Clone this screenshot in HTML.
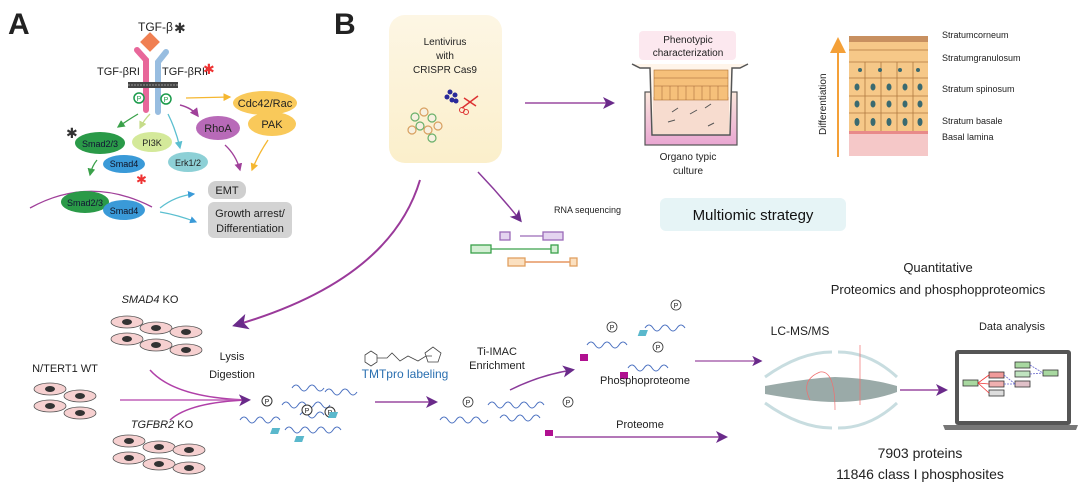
<!DOCTYPE html>
<html><head><meta charset="utf-8"><style>
html,body{margin:0;padding:0;background:#fff;}
svg{display:block;font-family:"Liberation Sans",sans-serif;}
</style></head><body>
<svg width="1080" height="484" viewBox="0 0 1080 484" xmlns="http://www.w3.org/2000/svg">
<defs>
<marker id="ap" markerWidth="8" markerHeight="8" refX="6" refY="4" orient="auto"><path d="M0,0 L8,4 L0,8 L2,4z" fill="#6a2a8a"/></marker>
<marker id="apk" markerWidth="6" markerHeight="6" refX="5" refY="3" orient="auto"><path d="M0,0 L6,3 L0,6z" fill="#a0409a"/></marker>
<marker id="ag" markerWidth="6" markerHeight="6" refX="5" refY="3" orient="auto"><path d="M0,0 L6,3 L0,6z" fill="#3aa14a"/></marker>
<marker id="alg" markerWidth="6" markerHeight="6" refX="5" refY="3" orient="auto"><path d="M0,0 L6,3 L0,6z" fill="#c6dc8a"/></marker>
<marker id="at" markerWidth="6" markerHeight="6" refX="5" refY="3" orient="auto"><path d="M0,0 L6,3 L0,6z" fill="#5bbfd0"/></marker>
<marker id="ab" markerWidth="6" markerHeight="6" refX="5" refY="3" orient="auto"><path d="M0,0 L6,3 L0,6z" fill="#3a9ad8"/></marker>
<marker id="ay" markerWidth="6" markerHeight="6" refX="5" refY="3" orient="auto"><path d="M0,0 L6,3 L0,6z" fill="#f5b731"/></marker>
<marker id="ao" markerWidth="8" markerHeight="8" refX="4" refY="4" orient="auto"><path d="M0,0 L8,4 L0,8z" fill="#f4a038"/></marker>
<linearGradient id="lg" x1="0" y1="0" x2="0" y2="1"><stop offset="0" stop-color="#fdf6e4"/><stop offset="1" stop-color="#fbefcb"/></linearGradient>
<linearGradient id="pk" x1="0" y1="0" x2="0" y2="1"><stop offset="0" stop-color="#fbe8dc"/><stop offset="1" stop-color="#e9a6d2"/></linearGradient>
</defs>

<!-- Panel A -->
<text x="8" y="34" font-size="30" font-weight="bold" fill="#222">A</text>
<text x="334" y="34" font-size="30" font-weight="bold" fill="#222">B</text>
<text x="138" y="31" font-size="12" fill="#222">TGF-β</text>
<text x="174" y="33" font-size="14" fill="#333">✱</text>
<rect x="143" y="35" width="14" height="14" fill="#f07f52" transform="rotate(45 150 42)"/>
<path d="M137,50 L146,60 L146,110" stroke="#e8679a" stroke-width="6" fill="none" stroke-linecap="round"/>
<path d="M166,52 L158,62 L158,112" stroke="#98bde0" stroke-width="6" fill="none" stroke-linecap="round"/>
<rect x="128" y="82" width="50" height="6" fill="#444"/>
<line x1="128" y1="85" x2="178" y2="85" stroke="#999" stroke-width="1" stroke-dasharray="2,1"/>
<text x="97" y="75" font-size="11" fill="#222">TGF-βRI</text>
<text x="162" y="75" font-size="11" fill="#222">TGF-βRII</text>
<text x="203" y="74" font-size="14" fill="#e33">✱</text>
<circle cx="139" cy="98" r="5" fill="#fff" stroke="#1a9a4a" stroke-width="1.5"/><text x="139" y="101" font-size="7" text-anchor="middle" fill="#1a9a4a">P</text>
<circle cx="166" cy="99" r="5" fill="#fff" stroke="#1a9a4a" stroke-width="1.5"/><text x="166" y="102" font-size="7" text-anchor="middle" fill="#1a9a4a">P</text>
<line x1="186" y1="98" x2="230" y2="97" stroke="#f5b731" stroke-width="1.3" marker-end="url(#ay)"/>
<path d="M180,105 Q192,108 198,116" stroke="#a0409a" stroke-width="1.5" fill="none" marker-end="url(#apk)"/>
<ellipse cx="265" cy="103" rx="32" ry="12" fill="#f9c95a"/><text x="265" y="107" font-size="11" text-anchor="middle" fill="#222">Cdc42/Rac</text>
<ellipse cx="272" cy="124" rx="24" ry="12" fill="#f9c95a"/><text x="272" y="128" font-size="11" text-anchor="middle" fill="#222">PAK</text>
<ellipse cx="218" cy="128" rx="22" ry="12" fill="#b86ab8"/><text x="218" y="132" font-size="11" text-anchor="middle" fill="#222">RhoA</text>
<path d="M138,114 Q128,120 118,127" stroke="#3aa14a" stroke-width="1.3" fill="none" marker-end="url(#ag)"/>
<path d="M150,114 Q144,120 140,128" stroke="#c6dc8a" stroke-width="1.3" fill="none" marker-end="url(#alg)"/>
<path d="M168,114 Q176,130 180,148" stroke="#5bbfd0" stroke-width="1.3" fill="none" marker-end="url(#at)"/>
<text x="66" y="138" font-size="14" fill="#333">✱</text>
<ellipse cx="100" cy="143" rx="25" ry="11" fill="#2a9a48"/><text x="100" y="147" font-size="9" text-anchor="middle" fill="#113">Smad2/3</text>
<ellipse cx="152" cy="142" rx="20" ry="10" fill="#d4e99a"/><text x="152" y="146" font-size="9" text-anchor="middle" fill="#222">PI3K</text>
<ellipse cx="124" cy="164" rx="21" ry="9" fill="#3a9ad8"/><text x="124" y="167" font-size="9" text-anchor="middle" fill="#112">Smad4</text>
<text x="136" y="184" font-size="13" fill="#e33">✱</text>
<ellipse cx="188" cy="162" rx="20" ry="10" fill="#8dd0d6"/><text x="188" y="166" font-size="9" text-anchor="middle" fill="#222">Erk1/2</text>
<path d="M97,160 Q92,166 90,175" stroke="#3aa14a" stroke-width="1.3" fill="none" marker-end="url(#ag)"/>
<path d="M225,145 Q236,155 240,170" stroke="#a0409a" stroke-width="1.3" fill="none" marker-end="url(#apk)"/>
<path d="M268,140 Q258,155 252,170" stroke="#f5b731" stroke-width="1.3" fill="none" marker-end="url(#ay)"/>
<path d="M30,208 Q90,175 152,207" stroke="#a0409a" stroke-width="1.3" fill="none"/>
<ellipse cx="85" cy="202" rx="24" ry="11" fill="#2a9a48"/><text x="85" y="206" font-size="9" text-anchor="middle" fill="#113">Smad2/3</text>
<ellipse cx="124" cy="210" rx="21" ry="10" fill="#3a9ad8"/><text x="124" y="214" font-size="9" text-anchor="middle" fill="#112">Smad4</text>
<path d="M160,208 Q175,196 194,194" stroke="#5bbfd0" stroke-width="1.2" fill="none" marker-end="url(#ab)"/>
<path d="M160,212 Q178,215 196,222" stroke="#5bbfd0" stroke-width="1.2" fill="none" marker-end="url(#ab)"/>
<rect x="208" y="181" width="38" height="18" rx="8" fill="#cfcfcf"/><text x="227" y="194" font-size="11" text-anchor="middle" fill="#222">EMT</text>
<rect x="208" y="202" width="84" height="36" rx="6" fill="#d3d3d3"/>
<text x="250" y="217" font-size="11" text-anchor="middle" fill="#222">Growth arrest/</text>
<text x="250" y="232" font-size="11" text-anchor="middle" fill="#222">Differentiation</text>

<!-- Panel B top -->
<rect x="389" y="15" width="113" height="148" rx="16" fill="url(#lg)"/>
<text x="445" y="45" font-size="10" text-anchor="middle" fill="#222">Lentivirus</text>
<text x="445" y="59" font-size="10" text-anchor="middle" fill="#222">with</text>
<text x="445" y="73" font-size="10" text-anchor="middle" fill="#222">CRISPR Cas9</text>
<g fill="#2a2a9a"><circle cx="450" cy="92" r="2.5"/><circle cx="455" cy="95" r="2.5"/><circle cx="447" cy="97" r="2.5"/><circle cx="452" cy="100" r="2.5"/><circle cx="456" cy="101" r="2.5"/></g>
<path d="M462,108 L478,96 M464,98 L476,106" stroke="#d33" stroke-width="1.5"/><circle cx="462" cy="110" r="2.5" fill="none" stroke="#d33"/><circle cx="466" cy="112" r="2.5" fill="none" stroke="#d33"/>
<g stroke-width="1.2" fill="#f7f0e0"><circle cx="415" cy="117" r="4" stroke="#6ab06a"/><circle cx="424" cy="112" r="4" stroke="#d8a060"/><circle cx="432" cy="118" r="4" stroke="#6ab06a"/><circle cx="420" cy="126" r="4" stroke="#6ab06a"/><circle cx="428" cy="130" r="4" stroke="#d8a060"/><circle cx="438" cy="126" r="4" stroke="#d8a060"/><circle cx="412" cy="130" r="4" stroke="#d8a060"/><circle cx="432" cy="138" r="4" stroke="#6ab06a"/></g>
<line x1="525" y1="103" x2="612" y2="103" stroke="#9a4aa0" stroke-width="1.5" marker-end="url(#ap)"/>
<rect x="639" y="31" width="97" height="29" rx="4" fill="#fce8ef"/>
<text x="688" y="43" font-size="10" text-anchor="middle" fill="#222">Phenotypic</text>
<text x="688" y="56" font-size="10" text-anchor="middle" fill="#222">characterization</text>
<rect x="645" y="92" width="92" height="53" fill="url(#pk)" stroke="#555" stroke-width="1.2"/>
<path d="M632,64 L640,68 L650,68 L652,135 L730,135 L732,68 L740,68 L748,64" fill="#fff5ea" stroke="#555" stroke-width="1.5"/>
<rect x="653" y="97" width="76" height="37" fill="#f5d6c8" opacity="0.8"/>
<rect x="654" y="70" width="74" height="30" fill="#f6c07a" stroke="#b07030" stroke-width="0.6"/>
<g stroke="#a06030" stroke-width="0.5"><line x1="654" y1="78" x2="728" y2="78"/><line x1="654" y1="86" x2="728" y2="86"/><line x1="662" y1="86" x2="662" y2="100"/><line x1="670" y1="86" x2="670" y2="100"/><line x1="678" y1="86" x2="678" y2="100"/><line x1="686" y1="86" x2="686" y2="100"/><line x1="694" y1="86" x2="694" y2="100"/><line x1="702" y1="86" x2="702" y2="100"/><line x1="710" y1="86" x2="710" y2="100"/><line x1="718" y1="86" x2="718" y2="100"/></g>
<g stroke="#555" stroke-width="1"><line x1="672" y1="112" x2="678" y2="108"/><line x1="690" y1="114" x2="697" y2="110"/><line x1="668" y1="122" x2="675" y2="120"/><line x1="705" y1="108" x2="711" y2="104"/><line x1="708" y1="126" x2="714" y2="123"/></g>
<text x="688" y="160" font-size="10" text-anchor="middle" fill="#222">Organo typic</text>
<text x="688" y="174" font-size="10" text-anchor="middle" fill="#222">culture</text>
<line x1="838" y1="157" x2="838" y2="45" stroke="#f4a038" stroke-width="2" marker-end="url(#ao)"/>
<text x="826" y="135" font-size="10" fill="#222" transform="rotate(-90 826 135)">Differentiation</text>
<rect x="849" y="134" width="79" height="22" fill="#f5c8c8"/>
<rect x="849" y="130" width="79" height="4" fill="#e88a8a"/>
<rect x="849" y="38" width="79" height="93" fill="#f6c888"/>
<rect x="849" y="36" width="79" height="6" fill="#c89060"/>
<g stroke="#b07a40" stroke-width="0.8" fill="none">
<line x1="849" y1="50" x2="928" y2="50"/><line x1="849" y1="62" x2="928" y2="62"/><line x1="849" y1="78" x2="928" y2="78"/><line x1="849" y1="96" x2="928" y2="96"/><line x1="849" y1="113" x2="928" y2="113"/>
<line x1="865" y1="62" x2="865" y2="131"/><line x1="881" y1="62" x2="881" y2="131"/><line x1="897" y1="62" x2="897" y2="131"/><line x1="913" y1="62" x2="913" y2="131"/></g>
<g fill="#3a6a70"><ellipse cx="857" cy="87" rx="2.5" ry="3.5"/><ellipse cx="873" cy="87" rx="2.5" ry="3.5"/><ellipse cx="889" cy="87" rx="2.5" ry="3.5"/><ellipse cx="905" cy="87" rx="2.5" ry="3.5"/><ellipse cx="920" cy="87" rx="2.5" ry="3.5"/><ellipse cx="857" cy="104" rx="2.5" ry="3.5"/><ellipse cx="873" cy="104" rx="2.5" ry="3.5"/><ellipse cx="889" cy="104" rx="2.5" ry="3.5"/><ellipse cx="905" cy="104" rx="2.5" ry="3.5"/><ellipse cx="920" cy="104" rx="2.5" ry="3.5"/><ellipse cx="857" cy="122" rx="2.5" ry="4"/><ellipse cx="873" cy="122" rx="2.5" ry="4"/><ellipse cx="889" cy="122" rx="2.5" ry="4"/><ellipse cx="905" cy="122" rx="2.5" ry="4"/><ellipse cx="920" cy="122" rx="2.5" ry="4"/><ellipse cx="860" cy="70" rx="2" ry="2"/><ellipse cx="880" cy="70" rx="2" ry="2"/><ellipse cx="900" cy="70" rx="2" ry="2"/><ellipse cx="918" cy="70" rx="2" ry="2"/></g>
<g font-size="9" fill="#222"><text x="942" y="38">Stratumcorneum</text><text x="942" y="61">Stratumgranulosum</text><text x="942" y="92">Stratum spinosum</text><text x="942" y="124">Stratum basale</text><text x="942" y="140">Basal lamina</text></g>
<path d="M478,172 Q500,195 520,220" stroke="#8a3a9a" stroke-width="1.5" fill="none" marker-end="url(#ap)"/>
<text x="554" y="213" font-size="9" fill="#222">RNA sequencing</text>
<g stroke-width="1.3"><line x1="520" y1="236" x2="544" y2="236" stroke="#9a6ab8"/><rect x="500" y="232" width="10" height="8" fill="#e4d4f0" stroke="#9a6ab8"/><rect x="543" y="232" width="20" height="8" fill="#e4d4f0" stroke="#9a6ab8"/>
<line x1="480" y1="249" x2="552" y2="249" stroke="#3aa14a"/><rect x="471" y="245" width="20" height="8" fill="#d4efd4" stroke="#3aa14a"/><rect x="551" y="245" width="7" height="8" fill="#d4efd4" stroke="#3aa14a"/>
<line x1="520" y1="262" x2="572" y2="262" stroke="#e08040"/><rect x="508" y="258" width="17" height="8" fill="#fbe0c0" stroke="#e0a060"/><rect x="570" y="258" width="7" height="8" fill="#fbe0c0" stroke="#e0a060"/></g>
<rect x="660" y="198" width="186" height="33" rx="6" fill="#e6f4f6"/>
<text x="753" y="220" font-size="15" text-anchor="middle" fill="#111">Multiomic strategy</text>
<path d="M420,180 Q390,280 236,325" stroke="#9a3a9a" stroke-width="2" fill="none" marker-end="url(#ap)"/>

<!-- Bottom -->
<text x="938" y="272" font-size="13" text-anchor="middle" fill="#222">Quantitative</text>
<text x="938" y="294" font-size="13" text-anchor="middle" fill="#222">Proteomics and phosphopproteomics</text>
<text x="150" y="303" font-size="11" text-anchor="middle" font-style="italic" fill="#222">SMAD4 <tspan font-style="normal">KO</tspan></text>
<text x="65" y="372" font-size="11" text-anchor="middle" fill="#222">N/TERT1 WT</text>
<text x="162" y="428" font-size="11" text-anchor="middle" font-style="italic" fill="#222">TGFBR2 <tspan font-style="normal">KO</tspan></text>
<g fill="#f6d0d0" stroke="#555" stroke-width="0.8">
<ellipse cx="127" cy="322" rx="16" ry="6"/><ellipse cx="127" cy="339" rx="16" ry="6"/><ellipse cx="156" cy="328" rx="16" ry="6"/><ellipse cx="156" cy="345" rx="16" ry="6"/><ellipse cx="186" cy="332" rx="16" ry="6"/><ellipse cx="186" cy="350" rx="16" ry="6"/>
<ellipse cx="50" cy="389" rx="16" ry="6"/><ellipse cx="50" cy="406" rx="16" ry="6"/><ellipse cx="80" cy="396" rx="16" ry="6"/><ellipse cx="80" cy="413" rx="16" ry="6"/>
<ellipse cx="129" cy="441" rx="16" ry="6"/><ellipse cx="129" cy="458" rx="16" ry="6"/><ellipse cx="159" cy="447" rx="16" ry="6"/><ellipse cx="159" cy="464" rx="16" ry="6"/><ellipse cx="189" cy="450" rx="16" ry="6"/><ellipse cx="189" cy="468" rx="16" ry="6"/></g>
<g fill="#333"><ellipse cx="127" cy="322" rx="5" ry="3"/><ellipse cx="127" cy="339" rx="5" ry="3"/><ellipse cx="156" cy="328" rx="5" ry="3"/><ellipse cx="156" cy="345" rx="5" ry="3"/><ellipse cx="186" cy="332" rx="5" ry="3"/><ellipse cx="186" cy="350" rx="5" ry="3"/><ellipse cx="50" cy="389" rx="5" ry="3"/><ellipse cx="50" cy="406" rx="5" ry="3"/><ellipse cx="80" cy="396" rx="5" ry="3"/><ellipse cx="80" cy="413" rx="5" ry="3"/><ellipse cx="129" cy="441" rx="5" ry="3"/><ellipse cx="129" cy="458" rx="5" ry="3"/><ellipse cx="159" cy="447" rx="5" ry="3"/><ellipse cx="159" cy="464" rx="5" ry="3"/><ellipse cx="189" cy="450" rx="5" ry="3"/><ellipse cx="189" cy="468" rx="5" ry="3"/></g>
<text x="232" y="360" font-size="11" text-anchor="middle" fill="#222">Lysis</text>
<text x="232" y="378" font-size="11" text-anchor="middle" fill="#222">Digestion</text>
<path d="M150,370 Q175,398 248,400" stroke="#b040a8" stroke-width="1.5" fill="none"/>
<path d="M120,400 L248,400" stroke="#c060b8" stroke-width="1.5" fill="none"/>
<path d="M170,420 Q190,402 248,400" stroke="#b040a8" stroke-width="1.5" fill="none" marker-end="url(#ap)"/>
<g stroke="#4a70c0" stroke-width="1" fill="none">
<path d="M240,420 q4,-6 8,0 t8,0 t8,0 t8,0 t8,0"/><path d="M282,405 q4,-6 8,0 t8,0 t8,0 t8,0 t8,0 t8,0"/><path d="M292,388 q4,-6 8,0 t8,0 t8,0 t8,0"/><path d="M325,392 q4,-6 8,0 t8,0 t8,0 t8,0"/><path d="M285,430 q4,-6 8,0 t8,0 t8,0 t8,0 t8,0 t8,0 t8,0"/><path d="M300,415 q4,-6 8,0 t8,0 t8,0"/></g>
<g font-size="7" text-anchor="middle" fill="#222"><circle cx="267" cy="401" r="5" fill="#fff" stroke="#333"/><text x="267" y="404">P</text><circle cx="307" cy="410" r="5" fill="#fff" stroke="#333"/><text x="307" y="413">P</text><circle cx="330" cy="412" r="5" fill="#fff" stroke="#333"/><text x="330" y="415">P</text></g>
<g stroke="#444" stroke-width="0.8" fill="none"><path d="M365,355 l6,-4 l6,4 l0,7 l-6,4 l-6,-4z M377,358 l10,0 l5,-5 l8,8 l8,-5 l10,5 l8,-5 l6,0"/><path d="M425,353 l8,-6 l8,6 l-3,9 l-10,0z"/></g>
<text x="405" y="378" font-size="12" text-anchor="middle" fill="#2a6fb0">TMTpro labeling</text>
<line x1="375" y1="402" x2="435" y2="402" stroke="#9a4aa0" stroke-width="1.5" marker-end="url(#ap)"/>
<text x="497" y="355" font-size="11" text-anchor="middle" fill="#222">Ti-IMAC</text>
<text x="497" y="369" font-size="11" text-anchor="middle" fill="#222">Enrichment</text>
<g stroke="#4a70c0" stroke-width="1" fill="none"><path d="M440,420 q4,-6 8,0 t8,0 t8,0 t8,0 t8,0 t8,0"/><path d="M488,405 q4,-6 8,0 t8,0 t8,0 t8,0 t8,0 t8,0 t8,0"/><path d="M500,418 q4,-6 8,0 t8,0 t8,0 t8,0 t8,0"/>
<path d="M587,345 q4,-6 8,0 t8,0 t8,0 t8,0 t8,0"/><path d="M645,328 q4,-6 8,0 t8,0 t8,0 t8,0 t8,0"/><path d="M628,368 q4,-6 8,0 t8,0 t8,0 t8,0 t8,0"/></g>
<g fill="#5ab8cc"><rect x="428" y="428" width="8" height="6" transform="skewX(-20)"/><rect x="455" y="436" width="8" height="6" transform="skewX(-20)"/><rect x="480" y="412" width="8" height="6" transform="skewX(-20)"/><rect x="760" y="330" width="8" height="6" transform="skewX(-20)"/></g>
<g fill="#b01090"><rect x="545" y="430" width="8" height="6"/><rect x="580" y="354" width="8" height="7"/><rect x="620" y="372" width="8" height="7"/></g>
<g font-size="7" text-anchor="middle" fill="#222" stroke-width="0.8"><circle cx="468" cy="402" r="5" fill="#fff" stroke="#333"/><text x="468" y="405">P</text><circle cx="568" cy="402" r="5" fill="#fff" stroke="#333"/><text x="568" y="405">P</text><circle cx="612" cy="327" r="5" fill="#fff" stroke="#333"/><text x="612" y="330">P</text><circle cx="676" cy="305" r="5" fill="#fff" stroke="#333"/><text x="676" y="308">P</text><circle cx="658" cy="347" r="5" fill="#fff" stroke="#333"/><text x="658" y="350">P</text></g>
<path d="M510,390 Q540,375 572,370" stroke="#8a3a9a" stroke-width="1.5" fill="none" marker-end="url(#ap)"/>
<text x="645" y="384" font-size="11" text-anchor="middle" fill="#222">Phosphoproteome</text>
<line x1="695" y1="361" x2="760" y2="361" stroke="#9a4aa0" stroke-width="1.3" marker-end="url(#ap)"/>
<text x="640" y="428" font-size="11" text-anchor="middle" fill="#222">Proteome</text>
<line x1="555" y1="437" x2="725" y2="437" stroke="#9a4aa0" stroke-width="1.5" marker-end="url(#ap)"/>
<text x="800" y="335" font-size="12" text-anchor="middle" fill="#222">LC-MS/MS</text>
<path d="M765,377 Q800,352 832,352 M838,352 Q870,352 897,377" stroke="#c8dde0" stroke-width="3" fill="none"/>
<path d="M765,403 Q800,428 832,428 M838,428 Q870,428 897,403" stroke="#c8dde0" stroke-width="3" fill="none"/>
<path d="M765,386 Q810,378 835,377 Q870,378 897,386 L897,392 Q870,402 835,402 Q810,402 765,394z" fill="#9aaaa8"/>
<path d="M860,345 L860,405 M810,400 Q800,380 820,372 Q835,370 835,410" stroke="#f07070" stroke-width="0.7" fill="none"/>
<line x1="900" y1="390" x2="945" y2="390" stroke="#9a4aa0" stroke-width="1.5" marker-end="url(#ap)"/>
<text x="1012" y="330" font-size="11" text-anchor="middle" fill="#222">Data analysis</text>
<rect x="955" y="350" width="116" height="75" rx="3" fill="#555"/>
<rect x="959" y="354" width="108" height="67" fill="#fff"/>
<path d="M943,425 L1078,425 L1076,430 L945,430z" fill="#777"/>
<g stroke-width="0.8"><rect x="963" y="380" width="15" height="6" fill="#a8d8a0" stroke="#333"/><rect x="989" y="372" width="15" height="6" fill="#f09a9a" stroke="#333"/><rect x="989" y="381" width="15" height="6" fill="#f0b0b0" stroke="#333"/><rect x="989" y="390" width="15" height="6" fill="#ddd" stroke="#333"/><rect x="1015" y="362" width="15" height="6" fill="#a8d8a0" stroke="#333"/><rect x="1015" y="371" width="15" height="6" fill="#c0e4c0" stroke="#333"/><rect x="1015" y="381" width="15" height="6" fill="#e0c0c8" stroke="#333"/><rect x="1043" y="370" width="15" height="6" fill="#a8d8a0" stroke="#333"/>
<path d="M978,383 L989,375 M978,383 L989,384 M978,383 L989,393" stroke="#e33"/><path d="M1004,375 L1015,384 M1004,384 L1015,384 M1030,374 L1043,373 M1030,365 L1043,373" stroke="#66c" stroke-dasharray="2,1"/></g>
<text x="920" y="458" font-size="14" text-anchor="middle" fill="#222">7903 proteins</text>
<text x="920" y="479" font-size="14" text-anchor="middle" fill="#222">11846 class I phosphosites</text>
</svg>
</body></html>
